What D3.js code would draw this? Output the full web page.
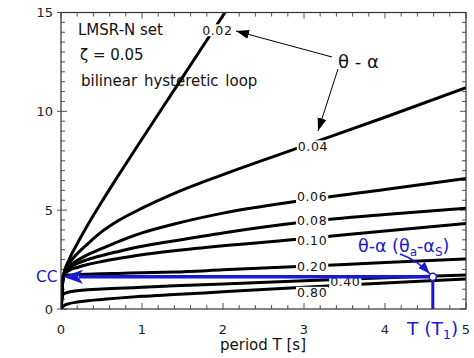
<!DOCTYPE html>
<html><head><meta charset="utf-8">
<script src="https://cdn.jsdelivr.net/npm/d3@7"></script>
<style>
body{margin:0;background:#fff;}
svg{display:block;font-family:"DejaVu Sans",Verdana,sans-serif;}
</style></head>
<body><svg id="c" width="474" height="358"></svg>
<script>
// ---- data ----
const periods  = [0, 0.03, 0.1, 0.2, 0.33, 0.5, 0.7, 1, 1.4, 2, 3, 4, 5];
const ratio002 = [0, 1.7, 2.5, 3.3, 4.25, 5.4, 6.7, 8.6, 11.1, 14.85, 21.1, 27.3, 33.5];
const ratio004 = [0, 1.7, 2.3, 2.8, 3.3, 3.9, 4.45, 5.1, 5.85, 6.8, 8.25, 9.7, 11.2];
const ratio006 = [0, 1.7, 2.15, 2.45, 2.75, 3.05, 3.4, 3.85, 4.3, 4.85, 5.5, 6.05, 6.6];
const ratio008 = [0, 1.7, 2.05, 2.3, 2.5, 2.7, 2.9, 3.17, 3.45, 3.85, 4.4, 4.78, 5.1];
const ratio010 = [0, 1.7, 1.95, 2.1, 2.25, 2.4, 2.55, 2.75, 2.95, 3.2, 3.55, 3.95, 4.33];
const ratio020 = [0, 1.68, 1.72, 1.74, 1.76, 1.78, 1.8, 1.83, 1.87, 1.98, 2.16, 2.35, 2.53];
const ratio040 = [0, 0.75, 0.86, 0.92, 0.97, 1.01, 1.05, 1.1, 1.17, 1.27, 1.43, 1.58, 1.72];
const ratio080 = [0, 0.15, 0.27, 0.35, 0.42, 0.48, 0.55, 0.64, 0.73, 0.87, 1.1, 1.32, 1.52];
const seriesNames = ["0.02", "0.04", "0.06", "0.08", "0.10", "0.20", "0.40", "0.80"];
const seriesValues = [ratio002, ratio004, ratio006, ratio008, ratio010, ratio020, ratio040, ratio080];
// label anchor (period, ratio) for each curve label
const labelT = [1.93, 3.11, 3.1, 3.1, 3.1, 3.1, 3.51, 3.1];
const labelV = [14.1, 8.23, 5.67, 4.49, 3.45, 2.14, 1.38, 0.82];
const xTicks = [0, 1, 2, 3, 4, 5];
const yTicks = [0, 5, 10, 15];
const periodT1 = 4.59;
const ratioCC = 1.63;

// ---- layout ----
const svg = d3.select("#c");
const L = 61, R = 466, T = 12.5, B = 309;
const x = d3.scaleLinear().domain([0, 5]).range([L, R]);
const y = d3.scaleLinear().domain([0, 15]).range([B, T]);
const blue = "#1a1ad0";
const axisCol = "#333";

const defs = svg.append("defs");
defs.append("clipPath").attr("id", "clip").append("rect")
  .attr("x", L).attr("y", T).attr("width", R - L).attr("height", B - T);
defs.append("marker").attr("id", "ah").attr("markerUnits", "userSpaceOnUse")
  .attr("markerWidth", 14).attr("markerHeight", 10).attr("refX", 13).attr("refY", 4.5)
  .attr("orient", "auto").append("path").attr("d", "M0,0 L13,4.5 L0,9 Z").attr("fill", "#000");
defs.append("marker").attr("id", "ahb").attr("markerUnits", "userSpaceOnUse")
  .attr("markerWidth", 14).attr("markerHeight", 10).attr("refX", 12).attr("refY", 4.5)
  .attr("orient", "auto").append("path").attr("d", "M0,0 L12,4.5 L0,9 Z").attr("fill", blue);

// axes ticks
const minorX = d3.range(0, 5.0001, 0.2);
const minorY = d3.range(0, 15.0001, 0.5);
const tk = svg.append("g").attr("stroke", "#555").attr("stroke-width", 1);
minorX.forEach(v => {
  const major = Math.abs(v - Math.round(v)) < 1e-6;
  const len = major ? 6 : 4;
  tk.append("line").attr("x1", x(v)).attr("x2", x(v)).attr("y1", B).attr("y2", B - len);
  tk.append("line").attr("x1", x(v)).attr("x2", x(v)).attr("y1", T).attr("y2", T + len);
});
minorY.forEach(v => {
  const major = Math.abs(v / 5 - Math.round(v / 5)) < 1e-6;
  const len = major ? 6 : 4;
  tk.append("line").attr("x1", L).attr("x2", L + len).attr("y1", y(v)).attr("y2", y(v));
  tk.append("line").attr("x1", R).attr("x2", R - len).attr("y1", y(v)).attr("y2", y(v));
  if (major) tk.append("line").attr("x1", L - 4).attr("x2", L).attr("y1", y(v)).attr("y2", y(v));
});

// tick labels
svg.append("g").selectAll("text").data(xTicks).join("text")
  .attr("x", d => x(d)).attr("y", 334).attr("text-anchor", "middle")
  .attr("font-size", 13).attr("fill", "#222").text(d => d);
svg.append("g").selectAll("text").data(yTicks).join("text")
  .attr("x", 53).attr("y", d => y(d) + 4.5).attr("text-anchor", "end")
  .attr("font-size", 13).attr("fill", "#222").text(d => d);
svg.append("text").attr("x", 263).attr("y", 350).attr("text-anchor", "middle")
  .attr("font-size", 15).attr("fill", "#111").text("period T [s]");

// curves
const line = d3.line().x((d, i) => x(periods[i])).y(d => y(d)).curve(d3.curveMonotoneX);
const cg = svg.append("g").attr("clip-path", "url(#clip)");
seriesValues.forEach(vals => {
  cg.append("path").attr("d", line(vals)).attr("fill", "none")
    .attr("stroke", "#000").attr("stroke-width", 3).attr("stroke-linejoin", "round");
});

// frame
svg.append("rect").attr("x", L).attr("y", T).attr("width", R - L).attr("height", B - T)
  .attr("fill", "none").attr("stroke", axisCol).attr("stroke-width", 1.2);

// curve labels with white backgrounds
const lg = svg.append("g");
seriesNames.forEach((n, i) => {
  const g = lg.append("g");
  const r = g.append("rect").attr("fill", "#fff");
  const t = g.append("text").attr("x", x(labelT[i])).attr("y", y(labelV[i]) + 4.5)
    .attr("text-anchor", "middle").attr("font-size", 12.5).attr("letter-spacing", 0.6)
    .attr("fill", "#111").text(n);
  const bb = t.node().getBBox();
  r.attr("x", bb.x - 1).attr("y", bb.y + 1.5).attr("width", bb.width + 2).attr("height", bb.height - 3);
});

// annotation texts
svg.append("text").attr("x", 78).attr("y", 34.5).attr("font-size", 15).attr("fill", "#111").text("LMSR-N set");
svg.append("text").attr("x", 80).attr("y", 59.5).attr("font-size", 15).attr("fill", "#111").text("ζ = 0.05");
svg.append("text").attr("x", 81).attr("y", 85.5).attr("font-size", 15).attr("fill", "#111")
  .attr("word-spacing", 2).text("bilinear hysteretic loop");
svg.append("text").attr("x", 338).attr("y", 68).attr("font-size", 18).attr("fill", "#111").text("θ - α");

// black arrows
svg.append("line").attr("x1", 332).attr("y1", 57).attr("x2", 236).attr("y2", 31)
  .attr("stroke", "#000").attr("stroke-width", 1).attr("marker-end", "url(#ah)");
svg.append("line").attr("x1", 338).attr("y1", 69).attr("x2", 318).attr("y2", 131)
  .attr("stroke", "#000").attr("stroke-width", 1).attr("marker-end", "url(#ah)");

// blue annotation
const bx = x(periodT1), by = y(ratioCC);
svg.append("line").attr("x1", bx).attr("x2", bx).attr("y1", by).attr("y2", B)
  .attr("stroke", blue).attr("stroke-width", 3);
svg.append("line").attr("x1", bx).attr("x2", L + 18).attr("y1", by).attr("y2", by)
  .attr("stroke", blue).attr("stroke-width", 3.5);
svg.append("path").attr("d", `M${L + 2},${by} L${L + 22},${by - 7} L${L + 17},${by} L${L + 22},${by + 7} Z`)
  .attr("fill", blue);
svg.append("circle").attr("cx", bx).attr("cy", by).attr("r", 3.6)
  .attr("fill", "#fff").attr("stroke", blue).attr("stroke-width", 1.5);
svg.append("path").attr("d", `M400,254 Q417,260 ${bx - 3},${by - 3}`).attr("fill", "none")
  .attr("stroke", blue).attr("stroke-width", 1.5).attr("marker-end", "url(#ahb)");
svg.append("text").attr("x", 36).attr("y", by + 5.5).attr("font-size", 15.5).attr("fill", blue).text("CC");

const t1 = svg.append("text").attr("x", 407).attr("y", 335).attr("font-size", 18.5).attr("fill", blue);
t1.append("tspan").text("T (T");
t1.append("tspan").attr("font-size", 13).attr("dy", 4).text("1");
t1.append("tspan").attr("dy", -4).text(")");

const ta = svg.append("text").attr("x", 358).attr("y", 252).attr("font-size", 17.5).attr("fill", blue);
ta.append("tspan").text("θ-α (θ");
ta.append("tspan").attr("font-size", 12).attr("dy", 4).text("a");
ta.append("tspan").attr("dy", -4).text("-α");
ta.append("tspan").attr("font-size", 12).attr("dy", 4).text("S");
ta.append("tspan").attr("dy", -4).text(")");
</script></body></html>
